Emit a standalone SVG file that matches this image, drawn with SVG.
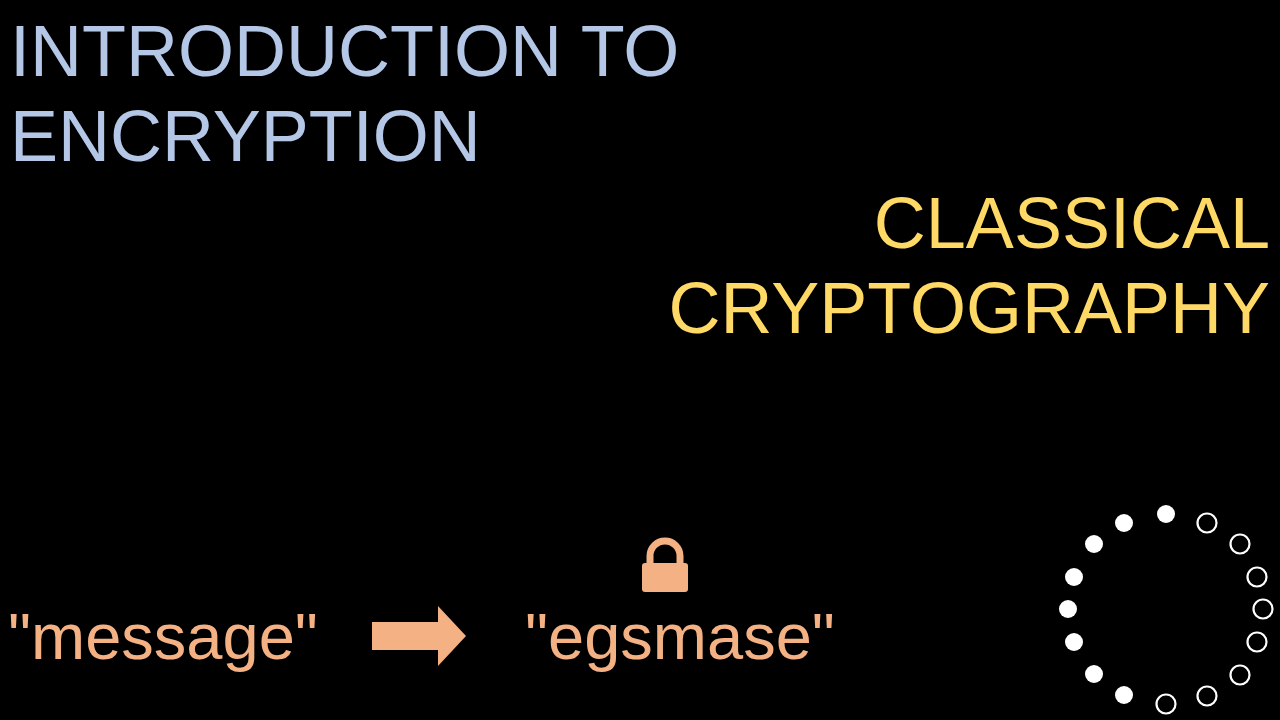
<svg xmlns="http://www.w3.org/2000/svg" width="1280" height="720" viewBox="0 0 1280 720">
<style>
text{font-family:"Liberation Sans",Arial,sans-serif}
.t{fill:#b4c7e7;font-size:72px}
.c{fill:#ffd966;font-size:72px;text-anchor:end}
.m{fill:#f4b183;font-size:65px}
.f{fill:#fff}
.h{fill:none;stroke:#fff;stroke-width:2.2}
</style>
<rect width="1280" height="720" fill="#000"/>
<g id="title"><text class="t" x="10" y="76">INTRODUCTION TO</text><text class="t" x="10" y="161">ENCRYPTION</text></g>
<g id="classical"><text class="c" x="1270" y="248">CLASSICAL</text><text class="c" x="1270" y="333">CRYPTOGRAPHY</text></g>
<g id="message"><text class="m" x="8" y="659">"message"</text></g>
<g id="cipher"><text class="m" x="525" y="659">"egsmase"</text></g>
<g id="lock"><path d="M650 564 v-8 a15 15 0 0 1 30 0 v8" fill="none" stroke="#f4b183" stroke-width="7"/><rect x="642" y="563" width="46" height="29" rx="3" fill="#f4b183"/></g>
<g id="connectors"><polygon points="372,622 438,622 438,606 466,636 438,666 438,650 372,650" fill="#f4b183"/></g>
<g id="spinner">
<circle class="f" cx="1166" cy="514" r="9"/><circle class="f" cx="1124" cy="523" r="9"/><circle class="f" cx="1094" cy="544" r="9"/><circle class="f" cx="1074" cy="577" r="9"/><circle class="f" cx="1068" cy="609" r="9"/><circle class="f" cx="1074" cy="642" r="9"/><circle class="f" cx="1094" cy="674" r="9"/><circle class="f" cx="1124" cy="695" r="9"/>
<circle class="h" cx="1166" cy="704" r="9.5"/><circle class="h" cx="1207" cy="696" r="9.5"/><circle class="h" cx="1240" cy="675" r="9.5"/><circle class="h" cx="1257" cy="642" r="9.5"/><circle class="h" cx="1263" cy="609" r="9.5"/><circle class="h" cx="1257" cy="577" r="9.5"/><circle class="h" cx="1240" cy="544" r="9.5"/><circle class="h" cx="1207" cy="523" r="9.5"/>
</g>
</svg>
